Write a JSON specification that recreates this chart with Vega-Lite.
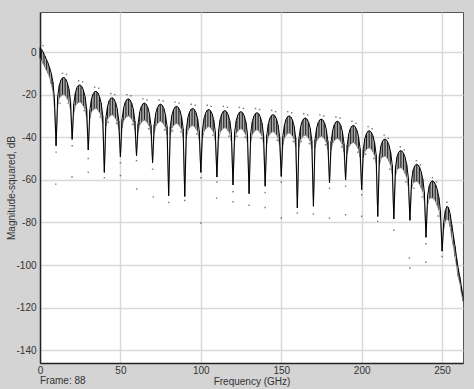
{
  "$schema": "https://vega.github.io/schema/vega-lite/v6.json",
  "width": 423,
  "height": 351,
  "autosize": {"type": "none"},
  "padding": {"left": 40, "top": 12, "right": 11, "bottom": 26},
  "background": "#d4d4d4",
  "title": {"text": "Frame: 88", "orient": "bottom", "anchor": "start", "frame": "group", "fontSize": 10, "fontWeight": "normal", "color": "#333333", "font": "Liberation Sans Narrow, Liberation Sans, sans-serif", "offset": -10},
  "config": {
    "view": {"fill": "white", "stroke": "#555555", "strokeWidth": 1},
    "axis": {
      "labelFont": "Liberation Sans Narrow, Liberation Sans, sans-serif",
      "titleFont": "Liberation Sans Narrow, Liberation Sans, sans-serif",
      "labelFontSize": 10, "titleFontSize": 10, "titleFontWeight": "normal",
      "labelColor": "#333333", "titleColor": "#333333",
      "ticks": false, "domainColor": "#222222", "domainWidth": 1.5,
      "gridColor": "#d9d9d9", "gridWidth": 1.5, "gridOpacity": 1
    }
  },
  "datasets": {
    "curve": [
      {"f":0,"hi":2,"lo":-3},{"f":1,"hi":1.2,"lo":-4},{"f":2,"hi":0,"lo":-5.5},{"f":3,"hi":-1.8,"lo":-7},{"f":4,"hi":-3.5,"lo":-8.5},{"f":5,"hi":-5.2,"lo":-10},{"f":6,"hi":-7.5,"lo":-12},{"f":7,"hi":-10,"lo":-15},{"f":8,"hi":-14,"lo":-18},{"f":9,"hi":-22,"lo":-26},
      {"f":10,"hi":-44,"lo":-44},
      {"f":11,"hi":-20.8,"lo":-24.8},{"f":12,"hi":-15.6,"lo":-21.6},{"f":13,"hi":-13.2,"lo":-20.7},{"f":14,"hi":-12.1,"lo":-20.1},{"f":15,"hi":-12,"lo":-20},{"f":16,"hi":-12.7,"lo":-20.7},{"f":17,"hi":-14.4,"lo":-21.9},{"f":18,"hi":-17.4,"lo":-23.4},{"f":19,"hi":-23.2,"lo":-27.2},
      {"f":20,"hi":-41,"lo":-41},
      {"f":21,"hi":-24.3,"lo":-28.3},{"f":22,"hi":-19.1,"lo":-25.1},{"f":23,"hi":-16.7,"lo":-24.2},{"f":24,"hi":-15.6,"lo":-23.6},{"f":25,"hi":-15.5,"lo":-23.5},{"f":26,"hi":-16.2,"lo":-24.2},{"f":27,"hi":-17.9,"lo":-25.4},{"f":28,"hi":-20.9,"lo":-26.9},{"f":29,"hi":-26.7,"lo":-30.7},
      {"f":30,"hi":-46,"lo":-46},
      {"f":31,"hi":-27.3,"lo":-31.3},{"f":32,"hi":-22.1,"lo":-28.1},{"f":33,"hi":-19.7,"lo":-27.2},{"f":34,"hi":-18.6,"lo":-26.6},{"f":35,"hi":-18.5,"lo":-26.5},{"f":36,"hi":-19.2,"lo":-27.2},{"f":37,"hi":-20.9,"lo":-28.4},{"f":38,"hi":-23.9,"lo":-29.9},{"f":39,"hi":-29.7,"lo":-33.7},
      {"f":40,"hi":-56.5,"lo":-56.5},
      {"f":41,"hi":-30.7,"lo":-34.7},{"f":42,"hi":-25.4,"lo":-31.4},{"f":43,"hi":-22.9,"lo":-30.4},{"f":44,"hi":-21.7,"lo":-29.7},{"f":45,"hi":-21.5,"lo":-29.5},{"f":46,"hi":-22.1,"lo":-30.1},{"f":47,"hi":-23.7,"lo":-31.2},{"f":48,"hi":-26.6,"lo":-32.6},{"f":49,"hi":-32.3,"lo":-36.3},
      {"f":50,"hi":-49.3,"lo":-49.3},
      {"f":51,"hi":-31.6,"lo":-35.6},{"f":52,"hi":-26.2,"lo":-32.2},{"f":53,"hi":-23.6,"lo":-31.1},{"f":54,"hi":-22.3,"lo":-30.3},{"f":55,"hi":-22,"lo":-30},{"f":56,"hi":-22.5,"lo":-30.5},{"f":57,"hi":-24,"lo":-31.5},{"f":58,"hi":-26.8,"lo":-32.8},{"f":59,"hi":-32.4,"lo":-36.4},
      {"f":60,"hi":-48.7,"lo":-48.7},
      {"f":61,"hi":-33.6,"lo":-37.6},{"f":62,"hi":-28.2,"lo":-34.2},{"f":63,"hi":-25.6,"lo":-33.1},{"f":64,"hi":-24.3,"lo":-32.3},{"f":65,"hi":-24,"lo":-32},{"f":66,"hi":-24.5,"lo":-32.5},{"f":67,"hi":-26,"lo":-33.5},{"f":68,"hi":-28.8,"lo":-34.8},{"f":69,"hi":-34.4,"lo":-38.4},
      {"f":70,"hi":-52,"lo":-52},
      {"f":71,"hi":-34.1,"lo":-38.1},{"f":72,"hi":-28.7,"lo":-34.7},{"f":73,"hi":-26.1,"lo":-33.6},{"f":74,"hi":-24.8,"lo":-32.8},{"f":75,"hi":-24.5,"lo":-32.5},{"f":76,"hi":-25,"lo":-33},{"f":77,"hi":-26.5,"lo":-34},{"f":78,"hi":-29.3,"lo":-35.3},{"f":79,"hi":-34.9,"lo":-38.9},
      {"f":80,"hi":-67.5,"lo":-67.5},
      {"f":81,"hi":-35.1,"lo":-39.1},{"f":82,"hi":-29.7,"lo":-35.7},{"f":83,"hi":-27.1,"lo":-34.6},{"f":84,"hi":-25.8,"lo":-33.8},{"f":85,"hi":-25.5,"lo":-33.5},{"f":86,"hi":-26,"lo":-34},{"f":87,"hi":-27.5,"lo":-35},{"f":88,"hi":-30.3,"lo":-36.3},{"f":89,"hi":-35.9,"lo":-39.9},
      {"f":90,"hi":-67.8,"lo":-67.8},
      {"f":91,"hi":-36.1,"lo":-40.1},{"f":92,"hi":-30.7,"lo":-36.7},{"f":93,"hi":-28.1,"lo":-35.6},{"f":94,"hi":-26.8,"lo":-34.8},{"f":95,"hi":-26.5,"lo":-34.5},{"f":96,"hi":-27,"lo":-35},{"f":97,"hi":-28.5,"lo":-36},{"f":98,"hi":-31.3,"lo":-37.3},{"f":99,"hi":-36.9,"lo":-40.9},
      {"f":100,"hi":-56.5,"lo":-56.5},
      {"f":101,"hi":-36.6,"lo":-40.6},{"f":102,"hi":-31.2,"lo":-37.2},{"f":103,"hi":-28.6,"lo":-36.1},{"f":104,"hi":-27.3,"lo":-35.3},{"f":105,"hi":-27,"lo":-35},{"f":106,"hi":-27.5,"lo":-35.5},{"f":107,"hi":-29,"lo":-36.5},{"f":108,"hi":-31.8,"lo":-37.8},{"f":109,"hi":-37.4,"lo":-41.4},
      {"f":110,"hi":-58.7,"lo":-58.7},
      {"f":111,"hi":-37.1,"lo":-41.1},{"f":112,"hi":-31.7,"lo":-37.7},{"f":113,"hi":-29.1,"lo":-36.6},{"f":114,"hi":-27.8,"lo":-35.8},{"f":115,"hi":-27.5,"lo":-35.5},{"f":116,"hi":-28,"lo":-36},{"f":117,"hi":-29.5,"lo":-37},{"f":118,"hi":-32.3,"lo":-38.3},{"f":119,"hi":-37.9,"lo":-41.9},
      {"f":120,"hi":-62.4,"lo":-62.4},
      {"f":121,"hi":-37.6,"lo":-41.6},{"f":122,"hi":-32.2,"lo":-38.2},{"f":123,"hi":-29.6,"lo":-37.1},{"f":124,"hi":-28.3,"lo":-36.3},{"f":125,"hi":-28,"lo":-36},{"f":126,"hi":-28.5,"lo":-36.5},{"f":127,"hi":-30,"lo":-37.5},{"f":128,"hi":-32.8,"lo":-38.8},{"f":129,"hi":-38.4,"lo":-42.4},
      {"f":130,"hi":-66.5,"lo":-66.5},
      {"f":131,"hi":-38.1,"lo":-42.1},{"f":132,"hi":-32.7,"lo":-38.7},{"f":133,"hi":-30.1,"lo":-37.6},{"f":134,"hi":-28.8,"lo":-36.8},{"f":135,"hi":-28.5,"lo":-36.5},{"f":136,"hi":-29,"lo":-37},{"f":137,"hi":-30.5,"lo":-38},{"f":138,"hi":-33.3,"lo":-39.3},{"f":139,"hi":-38.9,"lo":-42.9},
      {"f":140,"hi":-63,"lo":-63},
      {"f":141,"hi":-39,"lo":-43},{"f":142,"hi":-33.6,"lo":-39.6},{"f":143,"hi":-31,"lo":-38.5},{"f":144,"hi":-29.7,"lo":-37.7},{"f":145,"hi":-29.4,"lo":-37.4},{"f":146,"hi":-29.9,"lo":-37.9},{"f":147,"hi":-31.4,"lo":-38.9},{"f":148,"hi":-34.2,"lo":-40.2},{"f":149,"hi":-39.8,"lo":-43.8},
      {"f":150,"hi":-58.4,"lo":-58.4},
      {"f":151,"hi":-39.6,"lo":-43.6},{"f":152,"hi":-34.2,"lo":-40.2},{"f":153,"hi":-31.6,"lo":-39.1},{"f":154,"hi":-30.3,"lo":-38.3},{"f":155,"hi":-30,"lo":-38},{"f":156,"hi":-30.5,"lo":-38.5},{"f":157,"hi":-32,"lo":-39.5},{"f":158,"hi":-34.8,"lo":-40.8},{"f":159,"hi":-40.4,"lo":-44.4},
      {"f":160,"hi":-73.2,"lo":-73.2},
      {"f":161,"hi":-40.6,"lo":-44.6},{"f":162,"hi":-35.2,"lo":-41.2},{"f":163,"hi":-32.6,"lo":-40.1},{"f":164,"hi":-31.3,"lo":-39.3},{"f":165,"hi":-31,"lo":-39},{"f":166,"hi":-31.5,"lo":-39.5},{"f":167,"hi":-33,"lo":-40.5},{"f":168,"hi":-35.8,"lo":-41.8},{"f":169,"hi":-41.4,"lo":-45.4},
      {"f":170,"hi":-72.4,"lo":-72.4},
      {"f":171,"hi":-41.1,"lo":-45.1},{"f":172,"hi":-35.7,"lo":-41.7},{"f":173,"hi":-33.1,"lo":-40.6},{"f":174,"hi":-31.8,"lo":-39.8},{"f":175,"hi":-31.5,"lo":-39.5},{"f":176,"hi":-32,"lo":-40},{"f":177,"hi":-33.5,"lo":-41},{"f":178,"hi":-36.3,"lo":-42.3},{"f":179,"hi":-41.9,"lo":-45.9},
      {"f":180,"hi":-61.5,"lo":-61.5},
      {"f":181,"hi":-42.1,"lo":-46.1},{"f":182,"hi":-36.7,"lo":-42.7},{"f":183,"hi":-34.1,"lo":-41.6},{"f":184,"hi":-32.8,"lo":-40.8},{"f":185,"hi":-32.5,"lo":-40.5},{"f":186,"hi":-33,"lo":-41},{"f":187,"hi":-34.5,"lo":-42},{"f":188,"hi":-37.3,"lo":-43.3},{"f":189,"hi":-42.9,"lo":-46.9},
      {"f":190,"hi":-60,"lo":-60},
      {"f":191,"hi":-43.7,"lo":-47.7},{"f":192,"hi":-38.4,"lo":-44.4},{"f":193,"hi":-35.9,"lo":-43.4},{"f":194,"hi":-34.7,"lo":-42.7},{"f":195,"hi":-34.5,"lo":-42.5},{"f":196,"hi":-35.1,"lo":-43.1},{"f":197,"hi":-36.7,"lo":-44.2},{"f":198,"hi":-39.6,"lo":-45.6},{"f":199,"hi":-45.3,"lo":-49.3},
      {"f":200,"hi":-64.6,"lo":-64.6},
      {"f":201,"hi":-45.8,"lo":-49.8},{"f":202,"hi":-40.6,"lo":-46.6},{"f":203,"hi":-38.2,"lo":-45.7},{"f":204,"hi":-37.1,"lo":-45.1},{"f":205,"hi":-37,"lo":-45},{"f":206,"hi":-37.7,"lo":-45.7},{"f":207,"hi":-39.4,"lo":-46.9},{"f":208,"hi":-42.4,"lo":-48.4},{"f":209,"hi":-48.2,"lo":-52.2},
      {"f":210,"hi":-77.2,"lo":-77.2},
      {"f":211,"hi":-49,"lo":-53},{"f":212,"hi":-44,"lo":-50},{"f":213,"hi":-41.8,"lo":-49.3},{"f":214,"hi":-40.9,"lo":-48.9},{"f":215,"hi":-41,"lo":-49},{"f":216,"hi":-41.9,"lo":-49.9},{"f":217,"hi":-43.8,"lo":-51.3},{"f":218,"hi":-47,"lo":-53},{"f":219,"hi":-53,"lo":-57},
      {"f":220,"hi":-78.4,"lo":-78.4},
      {"f":221,"hi":-54.1,"lo":-58.1},{"f":222,"hi":-49.2,"lo":-55.2},{"f":223,"hi":-47.1,"lo":-54.6},{"f":224,"hi":-46.3,"lo":-54.3},{"f":225,"hi":-46.5,"lo":-54.5},{"f":226,"hi":-47.5,"lo":-55.5},{"f":227,"hi":-49.5,"lo":-57},{"f":228,"hi":-52.8,"lo":-58.8},{"f":229,"hi":-58.9,"lo":-62.9},
      {"f":230,"hi":-79,"lo":-79},
      {"f":231,"hi":-60.2,"lo":-64.2},{"f":232,"hi":-55.4,"lo":-61.4},{"f":233,"hi":-53.4,"lo":-60.9},{"f":234,"hi":-52.7,"lo":-60.7},{"f":235,"hi":-53,"lo":-61},{"f":236,"hi":-54.1,"lo":-62.1},{"f":237,"hi":-56.2,"lo":-63.7},{"f":238,"hi":-59.6,"lo":-65.6},{"f":239,"hi":-65.8,"lo":-69.8},
      {"f":240,"hi":-87,"lo":-87},
      {"f":241,"hi":-67.4,"lo":-71.4},{"f":242,"hi":-62.8,"lo":-68.8},{"f":243,"hi":-61,"lo":-68.5},{"f":244,"hi":-60.5,"lo":-68.5},{"f":245,"hi":-61,"lo":-69},{"f":246,"hi":-62.3,"lo":-70.3},{"f":247,"hi":-64.6,"lo":-72.1},{"f":248,"hi":-68.2,"lo":-74.2},{"f":249,"hi":-74.6,"lo":-78.6},
      {"f":250,"hi":-93.5,"lo":-93.5},
      {"f":251,"hi":-80,"lo":-83},{"f":252,"hi":-74.5,"lo":-79.5},{"f":253,"hi":-72.5,"lo":-78.5},{"f":254,"hi":-73,"lo":-79},{"f":255,"hi":-76,"lo":-82},{"f":256,"hi":-81,"lo":-87},{"f":257,"hi":-86,"lo":-91},{"f":258,"hi":-91,"lo":-96},{"f":259,"hi":-96.5,"lo":-100.5},{"f":260,"hi":-101.5,"lo":-105.5},{"f":261,"hi":-105.5,"lo":-108.5},{"f":262,"hi":-110,"lo":-113},{"f":263,"hi":-115,"lo":-117}
    ],
    "dots": [
      {"f":0.5,"db":4},{"f":2,"db":3},
      {"f":14,"db":-10},{"f":16.5,"db":-10.5},{"f":24,"db":-13.5},{"f":26.5,"db":-14},{"f":34,"db":-16.5},{"f":36.5,"db":-17},{"f":44,"db":-19.5},{"f":46.5,"db":-20},
      {"f":54,"db":-20},{"f":56.5,"db":-20.5},{"f":64,"db":-22},{"f":66.5,"db":-22.5},{"f":74,"db":-22.5},{"f":76.5,"db":-23},{"f":84,"db":-23.5},{"f":86.5,"db":-24},
      {"f":94,"db":-24.5},{"f":96.5,"db":-25},{"f":104,"db":-25},{"f":106.5,"db":-25.5},{"f":114,"db":-25.5},{"f":116.5,"db":-26},{"f":124,"db":-26},{"f":126.5,"db":-26.5},
      {"f":134,"db":-26.5},{"f":136.5,"db":-27},{"f":144,"db":-27.4},{"f":146.5,"db":-28},{"f":154,"db":-28},{"f":156.5,"db":-28.5},{"f":164,"db":-29},{"f":166.5,"db":-29.5},
      {"f":174,"db":-29.5},{"f":176.5,"db":-30},{"f":184,"db":-30.5},{"f":186.5,"db":-31},{"f":194,"db":-32.5},{"f":196.5,"db":-33.5},{"f":204,"db":-35},{"f":206.5,"db":-36},
      {"f":214,"db":-39},{"f":216.5,"db":-40.5},{"f":224,"db":-44.5},{"f":226.5,"db":-46},{"f":234,"db":-51},{"f":236.5,"db":-53},{"f":244,"db":-59},{"f":246.5,"db":-61},{"f":253,"db":-70.5},
      {"f":17.5,"db":-24},{"f":27.5,"db":-27.5},{"f":37.5,"db":-30.5},{"f":47.5,"db":-33.5},{"f":57.5,"db":-34},{"f":67.5,"db":-36},{"f":77.5,"db":-36.5},{"f":87.5,"db":-37.5},
      {"f":97.5,"db":-38.5},{"f":107.5,"db":-39},{"f":117.5,"db":-39.5},{"f":127.5,"db":-40},{"f":137.5,"db":-40.5},{"f":147.5,"db":-41.4},{"f":157.5,"db":-42},{"f":167.5,"db":-43},
      {"f":177.5,"db":-43.5},{"f":187.5,"db":-44.5},{"f":197.5,"db":-47},{"f":207.5,"db":-50},{"f":217.5,"db":-55},{"f":227.5,"db":-61},{"f":237.5,"db":-68},{"f":247.5,"db":-77},
      {"f":12.5,"db":-24},{"f":42.5,"db":-33},{"f":82.5,"db":-37},{"f":122.5,"db":-39.5},{"f":162.5,"db":-42},{"f":202.5,"db":-48},{"f":232.5,"db":-64},
      {"f":10,"db":-47},{"f":9.8,"db":-62},{"f":20,"db":-44},{"f":19.9,"db":-58.7},{"f":30,"db":-50},{"f":30,"db":-56.5},{"f":40,"db":-59},{"f":50,"db":-52},{"f":50,"db":-58},
      {"f":60,"db":-51},{"f":60.1,"db":-64.3},{"f":70,"db":-55},{"f":70.4,"db":-68},{"f":80,"db":-70.6},{"f":90,"db":-69.7},{"f":100,"db":-59},{"f":100,"db":-80.3},
      {"f":109.8,"db":-68.6},{"f":110,"db":-61},{"f":120,"db":-65.6},{"f":120,"db":-70.3},{"f":130,"db":-71.9},{"f":140,"db":-66},{"f":140,"db":-73},{"f":150,"db":-61},{"f":150,"db":-77.9},
      {"f":160,"db":-75.6},{"f":170,"db":-76},{"f":180,"db":-64},{"f":180,"db":-78},{"f":190,"db":-63},{"f":190,"db":-76.4},{"f":200,"db":-67},{"f":200,"db":-77.1},
      {"f":210,"db":-79.5},{"f":220,"db":-83.7},{"f":229.7,"db":-96.7},{"f":230,"db":-101.4},{"f":239.9,"db":-98.7},{"f":240,"db":-90},{"f":250,"db":-96}
    ]
  },
  "layer": [
    {
      "data": {"name": "curve"},
      "mark": {"type": "rule", "color": "black", "strokeWidth": 1, "opacity": 0.9},
      "encoding": {
        "x": {"field": "f", "type": "quantitative", "scale": {"domain": [0, 263], "nice": false, "zero": false},
              "axis": {"values": [0, 50, 100, 150, 200, 250], "title": "Frequency (GHz)", "labelPadding": 2, "titlePadding": 1, "labelFlush": false}},
        "y": {"field": "lo", "type": "quantitative", "scale": {"domain": [-146, 18.8], "nice": false, "zero": false},
              "axis": {"values": [0, -20, -40, -60, -80, -100, -120, -140], "title": "Magnitude-squared, dB", "labelExpr": "'' + datum.value", "labelPadding": 4, "titlePadding": -1, "labelFlush": false}},
        "y2": {"field": "hi"}
      }
    },
    {
      "data": {"name": "curve"},
      "mark": {"type": "line", "color": "#777777", "strokeWidth": 0.8},
      "encoding": {"x": {"field": "f", "type": "quantitative"}, "y": {"field": "lo", "type": "quantitative"}}
    },
    {
      "data": {"name": "curve"},
      "mark": {"type": "line", "color": "black", "strokeWidth": 1},
      "encoding": {"x": {"field": "f", "type": "quantitative"}, "y": {"field": "hi", "type": "quantitative"}}
    },
    {
      "data": {"name": "dots"},
      "mark": {"type": "square", "color": "#555555", "size": 2, "opacity": 0.8},
      "encoding": {"x": {"field": "f", "type": "quantitative"}, "y": {"field": "db", "type": "quantitative"}}
    }
  ]
}
